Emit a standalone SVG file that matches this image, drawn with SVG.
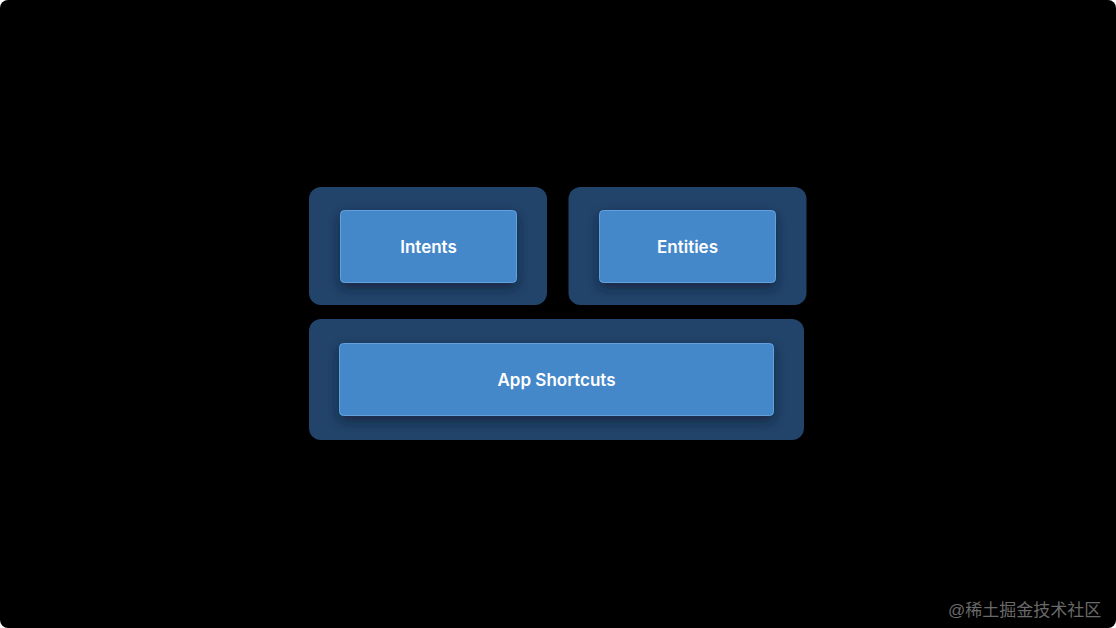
<svg xmlns="http://www.w3.org/2000/svg" width="1116" height="628" viewBox="0 0 1116 628">
<defs>
<style>
.outer{fill:#22446a;}
.inner{fill:#4588ca;stroke:#63a0dc;stroke-width:1;}
.lbl{font-family:Inter,"Noto Sans",sans-serif;font-size:17px;font-weight:600;fill:#ffffff;text-anchor:middle;dominant-baseline:central;}
.wm{font-family:"Liberation Sans","Noto Sans CJK SC",sans-serif;font-size:17px;fill:#6a6a6a;}
</style>
<filter id="sh" x="-20%" y="-30%" width="140%" height="170%">
<feDropShadow dx="0" dy="5" stdDeviation="6" flood-color="#0c1c30" flood-opacity="0.7"/>
</filter>
</defs>
<rect width="1116" height="628" fill="#ffffff"/>
<rect width="1116" height="628" rx="8" fill="#000000"/>
<g id="intents">
<rect class="outer" x="309" y="187" width="238" height="118" rx="12"/>
<rect class="inner" x="340.5" y="210.5" width="176" height="72" rx="4" filter="url(#sh)"/>
<text class="lbl" x="428.5" y="246.5">Intents</text>
</g>
<g id="entities">
<rect class="outer" x="568.5" y="187" width="238" height="118" rx="12"/>
<rect class="inner" x="599.5" y="210.5" width="176" height="72" rx="4" filter="url(#sh)"/>
<text class="lbl" x="687.5" y="246.5">Entities</text>
</g>
<g id="app-shortcuts">
<rect class="outer" x="309" y="319" width="495" height="121" rx="12"/>
<rect class="inner" x="339.5" y="343.5" width="434" height="72" rx="4" filter="url(#sh)"/>
<text class="lbl" x="556.5" y="379.5">App Shortcuts</text>
</g>
<g id="connectors"/>
<text class="wm" x="948" y="616">@稀土掘金技术社区</text>
</svg>
